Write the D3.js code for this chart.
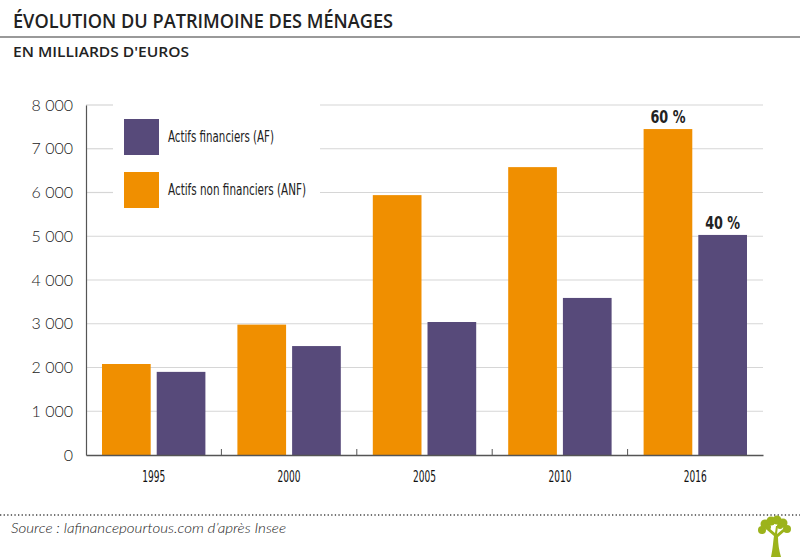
<!DOCTYPE html>
<html>
<head>
<meta charset="utf-8">
<script src="https://cdn.jsdelivr.net/npm/d3@7"></script>
<style>
  body { margin: 0; background: #fff; }
  svg { display: block; }
</style>
</head>
<body>
<svg width="800" height="557"></svg>
<script>
const width = 800
const height = 557

// data
const years = ['1995', '2000', '2005', '2010', '2016']
const series = ['ANF', 'AF']
const anf = [2080, 2980, 5940, 6580, 7450]
const af = [1900, 2490, 3040, 3590, 5030]
const yTicks = [0, 1000, 2000, 3000, 4000, 5000, 6000, 7000, 8000]
const legendLabels = ['Actifs financiers (AF)', 'Actifs non financiers (ANF)']
const shareLabels = ['60 %', '40 %']

const orange = '#f08f00'
const purple = '#574a7a'
const narrow = "'Liberation Sans Narrow', 'DejaVu Sans Condensed', sans-serif"

const svg = d3.select('svg')

const margin = {left: 86, right: 37, top: 105, bottom: 102}

const x = d3.scaleBand()
  .domain(years)
  .range([margin.left, width - margin.right])
  .paddingInner(0)
  .paddingOuter(0)

const xInner = d3.scaleBand()
  .domain(series)
  .range([16, x.bandwidth() - 16])
  .paddingInner(0.11)

const y = d3.scaleLinear()
  .domain([0, 8000])
  .range([height - margin.bottom, margin.top])

// title
svg.append('text')
  .attr('x', 13).attr('y', 28)
  .attr('font-family', "'Open Sans', sans-serif")
  .attr('font-size', 20)
  .attr('font-weight', 600)
  .attr('fill', '#222')
  .attr('textLength', 380)
  .attr('lengthAdjust', 'spacingAndGlyphs')
  .text('ÉVOLUTION DU PATRIMOINE DES MÉNAGES')

svg.append('line')
  .attr('x1', 0).attr('x2', width)
  .attr('y1', 37).attr('y2', 37)
  .attr('stroke', '#777').attr('stroke-width', 1.5)

svg.append('text')
  .attr('x', 13).attr('y', 57)
  .attr('font-family', "'Open Sans', sans-serif")
  .attr('font-size', 14)
  .attr('font-weight', 600)
  .attr('fill', '#222')
  .attr('textLength', 176)
  .attr('lengthAdjust', 'spacingAndGlyphs')
  .text("EN MILLIARDS D'EUROS")

// gridlines (broken behind the legend)
const legendGap = [113, 320]
yTicks.filter(d => d > 0).forEach(t => {
  const yy = y(t)
  const segs = t >= 6000
    ? [[margin.left, legendGap[0]], [legendGap[1], width - margin.right]]
    : [[margin.left, width - margin.right]]
  segs.forEach(s => {
    svg.append('line')
      .attr('x1', s[0]).attr('x2', s[1])
      .attr('y1', yy).attr('y2', yy)
      .attr('stroke', '#d6d6d6').attr('stroke-width', 1.2)
  })
})

// y axis
const yAxis = svg.append('g')
  .attr('transform', `translate(${margin.left},0)`)
  .call(d3.axisLeft(y).tickValues(yTicks).tickSize(0).tickPadding(13)
    .tickFormat(d => d3.format(',')(d).replace(',', ' ')))
yAxis.select('.domain').attr('stroke', '#555').attr('stroke-width', 1.2)
yAxis.selectAll('text')
  .attr('font-family', "'Lato', sans-serif")
  .attr('font-size', 16)
  .attr('font-weight', 300)
  .attr('fill', '#222')

// bars
const groups = svg.append('g').selectAll('g')
  .data(years)
  .join('g')
  .attr('transform', d => `translate(${x(d)},0)`)

groups.append('rect')
  .attr('x', xInner('ANF'))
  .attr('width', xInner.bandwidth())
  .attr('y', (d, i) => y(anf[i]))
  .attr('height', (d, i) => y(0) - y(anf[i]))
  .attr('fill', orange)

groups.append('rect')
  .attr('x', xInner('AF'))
  .attr('width', xInner.bandwidth())
  .attr('y', (d, i) => y(af[i]))
  .attr('height', (d, i) => y(0) - y(af[i]))
  .attr('fill', purple)

// x axis
const xAxis = svg.append('g')
  .attr('transform', `translate(0,${y(0)})`)
  .call(d3.axisBottom(x).tickSize(0).tickPadding(16))
xAxis.select('.domain').attr('stroke', '#555').attr('stroke-width', 1.5)
xAxis.selectAll('text')
  .attr('font-family', narrow)
  .attr('font-size', 15)
  .attr('fill', '#111')
  .attr('textLength', 23)
  .attr('lengthAdjust', 'spacingAndGlyphs')

// small separators between groups
svg.append('g').selectAll('line')
  .data(years.slice(1))
  .join('line')
  .attr('x1', d => x(d)).attr('x2', d => x(d))
  .attr('y1', y(0) - 6).attr('y2', y(0))
  .attr('stroke', '#555').attr('stroke-width', 1)

// share labels on 2016
const last = years[years.length - 1]
const shareVals = [anf[anf.length - 1], af[af.length - 1]]
series.forEach((s, i) => {
  svg.append('text')
    .attr('x', x(last) + xInner(s) + xInner.bandwidth() / 2 - 17.5)
    .attr('y', y(shareVals[i]) - 6)
    .attr('font-family', narrow)
    .attr('font-weight', 'bold')
    .attr('font-size', 17)
    .attr('fill', '#222')
    .attr('textLength', 35)
    .attr('lengthAdjust', 'spacingAndGlyphs')
    .text(shareLabels[i])
})

// legend
const legend = svg.append('g').attr('transform', 'translate(124,119)')
const legendColors = [purple, orange]
const legendWidths = [106, 138]
legendLabels.forEach((l, i) => {
  legend.append('rect')
    .attr('x', 0).attr('y', i * 53)
    .attr('width', 35).attr('height', 36)
    .attr('fill', legendColors[i])
  legend.append('text')
    .attr('x', 44).attr('y', i * 53 + 23)
    .attr('font-family', narrow)
    .attr('font-size', 15)
    .attr('fill', '#222')
    .attr('textLength', legendWidths[i])
    .attr('lengthAdjust', 'spacingAndGlyphs')
    .text(l)
})

// footer
svg.append('line')
  .attr('x1', 0).attr('x2', width)
  .attr('y1', 515).attr('y2', 515)
  .attr('stroke', '#444').attr('stroke-width', 1.3)
  .attr('stroke-dasharray', '1.3,2.3')

svg.append('text')
  .attr('x', 11).attr('y', 533)
  .attr('font-family', "'Lato', sans-serif")
  .attr('font-style', 'italic')
  .attr('font-weight', 300)
  .attr('font-size', 14.5)
  .attr('fill', '#222')
  .attr('textLength', 275)
  .attr('lengthAdjust', 'spacingAndGlyphs')
  .text('Source : lafinancepourtous.com d’après Insee')

// tree logo
const tree = svg.append('g').attr('transform', 'translate(775,540)').attr('fill', '#9cb31b')
tree.append('path')
  .attr('d', 'M-4,17 C-2,8 -2,2 -1,-4 L-8,-10 L-6,-12 L0,-7 L1,-14 L3,-14 L2,-6 L8,-11 L10,-9 L3,-3 C3,4 4,10 6,17 Z')
const leaves = [[-13, -10, 4], [-10, -16, 4.5], [-4, -19, 4.5], [2, -20, 4.5], [8, -17, 4.5], [12, -11, 4], [-7, -13, 3], [5, -14, 3]]
tree.selectAll('circle')
  .data(leaves)
  .join('circle')
  .attr('cx', d => d[0]).attr('cy', d => d[1]).attr('r', d => d[2])
</script>
</body>
</html>
